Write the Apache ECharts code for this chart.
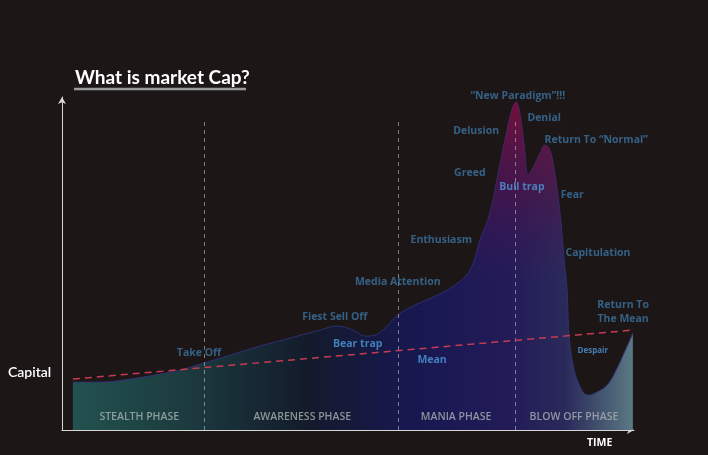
<!DOCTYPE html>
<html>
<head>
<meta charset="utf-8">
<script src="https://cdn.jsdelivr.net/npm/echarts@6/dist/echarts.min.js"></script>
<style>
  html, body { margin: 0; padding: 0; background: #1d1617; }
  #chart { width: 708px; height: 455px; }
</style>
</head>
<body>
<div id="chart"></div>
<script>
// market cycle curve, time 0..100 vs capital 0..100
var timeValues = [1.9, 6.6, 11.9, 17.1, 20.6, 24.8, 29.4, 34.6, 39.9, 45.1, 48.1, 50.9, 53.0, 54.7, 56.5,
  58.7, 61.7, 64.9, 68.7, 71.3, 73.1, 74.8, 76.6, 77.8, 78.8, 79.4, 80.1, 80.8, 81.5, 82.3, 83.6,
  84.4, 85.3, 86.2, 87.1, 87.8, 88.3, 88.6, 89.3, 90.6, 92.0, 93.5, 95.3, 96.7, 98.1, 99.8];
var capitalValues = [14.4, 14.4, 15.3, 16.8, 18.0, 20.1, 22.5, 25.2, 27.6, 30.0, 31.2, 30.0, 28.2, 28.5, 30.6,
  34.5, 37.5, 39.9, 43.5, 48.0, 57.1, 65.2, 80.2, 90.1, 97.0, 98.5, 94.6, 85.6, 76.6, 78.7, 83.2,
  85.6, 84.1, 76.6, 64.6, 51.1, 42.0, 30.0, 20.1, 12.9, 10.5, 11.4, 13.5, 17.4, 22.5, 29.1];

var meanTime = [1.9, 99.8];
var meanCapital = [15.3, 30.0];

var phaseBounds = [24.8, 58.7, 79.2];
var phaseNames = ['STEALTH PHASE', 'AWARENESS PHASE', 'MANIA PHASE', 'BLOW OFF PHASE'];
var phaseCenters = [13.5, 42.0, 68.9, 89.5];

var noteNames = ['Take Off', 'Fiest Sell Off', 'Bear trap', 'Media Attention', 'Enthusiasm', 'Greed',
  'Delusion', '\u201cNew Paradigm\u201d!!!', 'Denial', 'Return To \u201cNormal\u201d', 'Bull trap', 'Fear',
  'Capitulation', 'Return To\nThe Mean', 'Despair', 'Mean'];
var noteTime = [23.95, 47.7, 51.7, 58.7, 66.3, 71.3, 72.4, 79.7, 84.3, 93.4, 80.4, 89.2, 93.7, 98.1, 92.8, 64.7];
var noteCapital = [23.1, 33.9, 25.8, 44.4, 57.1, 77.2, 89.8, 100.3, 93.7, 87.1, 73.0, 70.6, 53.2, 35.4, 23.7, 21.0];

var brightNotes = { 'Bear trap': 1, 'Mean': 1, 'Bull trap': 1, 'Despair': 1 };

var curve = timeValues.map(function(t, i) { return [t, capitalValues[i]]; });
var mean = meanTime.map(function(t, i) { return [t, meanCapital[i]]; });

var notes = noteNames.map(function(n, i) {
  var bright = brightNotes[n];
  return {
    name: n,
    value: [noteTime[i], noteCapital[i]],
    label: {
      color: bright ? '#4e98d8' : '#3b74a3',
      fontSize: n === 'Despair' ? 8 : 10.5
    }
  };
});
var phases = phaseNames.map(function(n, i) { return { name: n, value: [phaseCenters[i], 3.9] }; });

var chart = echarts.init(document.getElementById('chart'));

var axisCommon = {
  type: 'value', min: 0, max: 100,
  axisLine: { show: true, symbol: ['none', 'arrow'], symbolSize: [6, 7], lineStyle: { color: '#d6d6d6', width: 1 } },
  axisTick: { show: false }, axisLabel: { show: false }, splitLine: { show: false }
};

chart.setOption({
  backgroundColor: '#1d1617',
  animation: false,
  title: {
    text: 'What is market Cap?', left: 70, top: 63,
    textStyle: { color: '#ffffff', fontSize: 19, fontWeight: 'bold', fontFamily: 'Lato' }
  },
  graphic: [
    { type: 'line', shape: { x1: 74, y1: 89, x2: 246, y2: 89 }, style: { stroke: '#9b9b9b', lineWidth: 2.5 } },
    { type: 'text', left: 8, top: 365, style: { text: 'Capital', fill: '#ffffff', font: '600 14px Lato' } },
    { type: 'text', left: 587, top: 438, style: { text: 'TIME', fill: '#ffffff', font: 'bold 10.5px "Open Sans"' } }
  ],
  grid: { left: 62, right: 74, top: 97, bottom: 25 },
  xAxis: axisCommon,
  yAxis: axisCommon,
  series: [
    {
      type: 'line', data: curve, smooth: 0.4, symbol: 'none', z: 2,
      lineStyle: { color: '#2e2f72', width: 1 },
      areaStyle: {
        opacity: 1,
        color: new echarts.graphic.LinearGradient(0, 0, 1, 0, [
          { offset: 0, color: '#22524f' },
          { offset: 0.2, color: '#1c3b3f' },
          { offset: 0.42, color: '#131b2b' },
          { offset: 0.6, color: '#171850' },
          { offset: 0.78, color: '#221b58' },
          { offset: 0.88, color: '#2a2a5a' },
          { offset: 1, color: '#5a7983' }
        ])
      },
      markLine: {
        silent: true, symbol: 'none', label: { show: false },
        lineStyle: { color: 'rgba(210,210,210,0.55)', type: [4, 4], width: 1 },
        data: phaseBounds.map(function(b) { return [{ coord: [b, 0] }, { coord: [b, 92.8] }]; })
      }
    },
    {
      type: 'line', data: curve, smooth: 0.4, symbol: 'none', z: 3,
      lineStyle: { opacity: 0 },
      areaStyle: {
        opacity: 1,
        color: new echarts.graphic.LinearGradient(0, 0, 0, 1, [
          { offset: 0, color: 'rgba(128,14,56,0.85)' },
          { offset: 0.25, color: 'rgba(100,16,62,0.5)' },
          { offset: 0.55, color: 'rgba(80,20,90,0)' },
          { offset: 1, color: 'rgba(80,20,90,0)' }
        ])
      }
    },
    {
      type: 'line', data: mean, symbol: 'none', z: 5,
      lineStyle: { color: '#c73a52', width: 1.5, type: [7, 5] }
    },
    {
      type: 'scatter', data: notes, symbolSize: 1, clip: false, z: 6,
      itemStyle: { color: 'rgba(0,0,0,0)' },
      label: {
        show: true, position: 'inside', formatter: '{b}', fontFamily: 'Open Sans', fontWeight: 'bold',
        lineHeight: 14, align: 'center'
      }
    },
    {
      type: 'scatter', data: phases, symbolSize: 1, z: 6,
      itemStyle: { color: 'rgba(0,0,0,0)' },
      label: {
        show: true, position: 'inside', formatter: '{b}', color: '#a9b1b2',
        fontFamily: 'Open Sans', fontWeight: 600, fontSize: 10.5
      }
    }
  ]
});
</script>
</body>
</html>
